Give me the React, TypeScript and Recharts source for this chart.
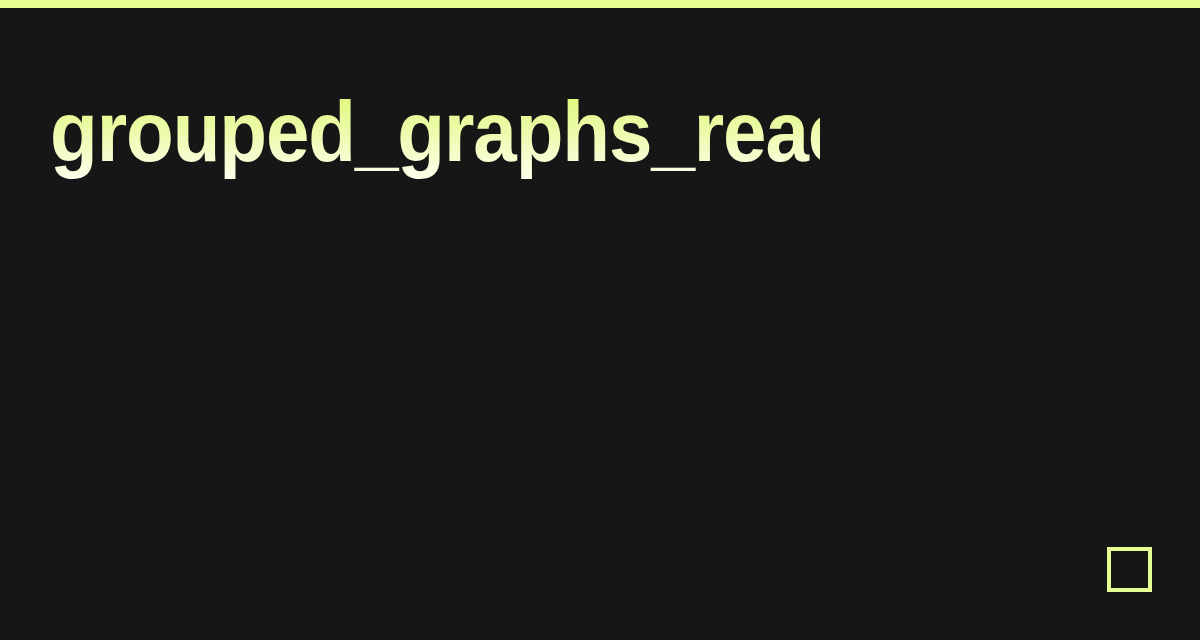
import { ComposedChart, Customized } from "recharts";

const WIDTH = 1200;
const HEIGHT = 640;

// title words, joined with underscores (the card cuts it off)
const TITLE_WORDS = ["grouped", "graphs", "react"];
const ACCENT = "#e6fe93";
const BG = "#161616";

function Card() {
  const title = TITLE_WORDS.join("_");
  return (
    <g>
      <defs>
        <linearGradient
          id="titleFill"
          gradientUnits="userSpaceOnUse"
          x1="0"
          y1="98"
          x2="0"
          y2="178"
        >
          <stop offset="0%" stopColor="#e0f97f" />
          <stop offset="100%" stopColor="#fdffea" />
        </linearGradient>
        <clipPath id="titleClip">
          <rect x={0} y={0} width={820} height={HEIGHT} />
        </clipPath>
      </defs>
      <rect x={0} y={0} width={WIDTH} height={HEIGHT} fill={BG} />
      <rect x={0} y={0} width={WIDTH} height={8} fill={ACCENT} />
      <g clipPath="url(#titleClip)">
        <g transform="translate(50 0) scale(0.92 1)">
          <text
            x={0}
            y={161}
            fill="url(#titleFill)"
            fontFamily="'Liberation Sans', Arial, sans-serif"
            fontWeight={700}
            fontSize={85}
            letterSpacing={-1.2}
          >
            {title}
          </text>
        </g>
      </g>
      <rect
        x={1109}
        y={549}
        width={41}
        height={41}
        fill="none"
        stroke={ACCENT}
        strokeWidth={4}
      />
    </g>
  );
}

export default function App() {
  return (
    <div style={{ position: "fixed", left: 0, top: 0, width: WIDTH, height: HEIGHT, background: BG }}>
      <ComposedChart
        width={WIDTH}
        height={HEIGHT}
        data={[]}
        margin={{ top: 0, right: 0, bottom: 0, left: 0 }}
      >
        <Customized component={Card} />
      </ComposedChart>
    </div>
  );
}
